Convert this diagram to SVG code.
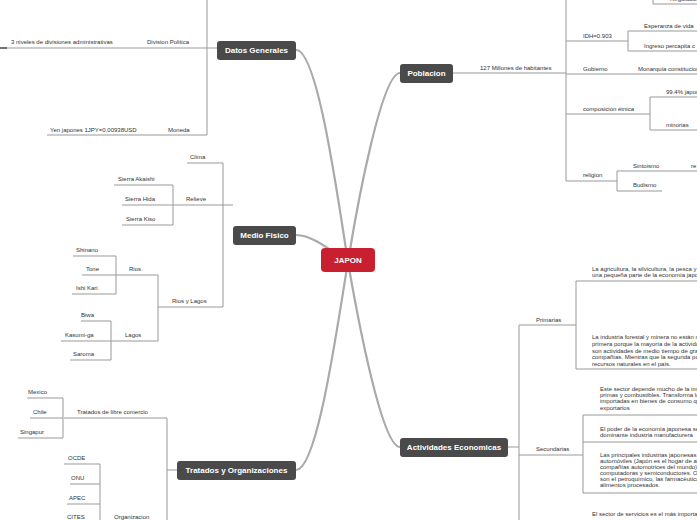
<svg xmlns="http://www.w3.org/2000/svg" width="697" height="520" viewBox="0 0 697 520">
<style>
.t{font-family:"Liberation Sans",Arial,sans-serif;font-size:6px;fill:#333}
.n{font-family:"Liberation Sans",Arial,sans-serif;font-size:8px;font-weight:bold;fill:#fff;text-anchor:middle}
.l{stroke:#999;stroke-width:1;fill:none}
.c{stroke:#aaa;stroke-width:2.2;fill:none}
.box{fill:#4a4a4a}
</style>
<rect width="697" height="520" fill="#fff"/>
<g id="connectors">
<path class="c" d="M296,50 C318,50 338,200 348,262"/>
<path class="c" d="M296,235 C312,235 330,250 348,262"/>
<path class="c" d="M296,470 C318,470 338,320 348,262"/>
<path class="c" d="M400,73 C382,73 358,200 348,262"/>
<path class="c" d="M400,447 C382,447 358,320 348,262"/>
<path class="l" d="M207,0V135M0,48H217M47,135H207"/>
<path d="M0,48H7" stroke="#555" stroke-width="1.5"/>
<path class="l" d="M223,163V307M187,163H223M173,205H233M158,307H223M173,185V225M114,185H173M122,205H173M122,225H173"/>
<path class="l" d="M158,275V341M116,275H158M111,341H158M116,256V294M73,256H116M82,275H116M72,294H116M111,321V360M81,321H111M61,341H111M70,360H111"/>
<path class="l" d="M167,418V520M64,418H167M167,470H177M63,398V438M27,398H63M30,418H63M18,438H63M100,464V520M64,464H100M70,484H100M67,504H100M66,523H100"/>
<path class="l" d="M453,73H566M566,0V181M566,41H628M628,31V51M628,31H697M628,51H697M566,74H697M566,114H650M650,97V130M650,97H697M650,130H697M566,181H617M617,171V191M617,171H697M617,191H662M653,0V4M653,4H697"/>
<path class="l" d="M508,447H519M519,325V520M519,325H576M576,281V369M576,281H697M576,369H697M519,455H583M583,415V493M583,415H697M583,442H697M583,493H697"/>
</g>
<g id="center"><rect x="321" y="248" width="54" height="24" rx="4" fill="#c8202f"/><text class="n" x="348" y="263">JAPON</text></g>
<g id="datos"><rect class="box" x="217" y="41" width="79" height="19" rx="3"/><text class="n" x="256.5" y="53">Datos Generales</text>
<text class="t" x="11" y="44">3 niveles de divisiones administrativas</text><text class="t" x="147" y="44">Division Politica</text>
<text class="t" x="50" y="132">Yen japones 1JPY=0,00938USD</text><text class="t" x="168" y="132">Moneda</text></g>
<g id="medio"><rect class="box" x="233" y="226" width="63" height="19" rx="3"/><text class="n" x="264.5" y="238">Medio Fisico</text>
<text class="t" x="190" y="159">Clima</text><text class="t" x="186" y="201">Relieve</text>
<text class="t" x="118" y="181">Sierra Akaishi</text><text class="t" x="125" y="201">Sierra Hida</text><text class="t" x="126" y="221">Sierra Kiso</text>
<text class="t" x="172" y="303">Rios y Lagos</text><text class="t" x="129" y="271">Rios</text>
<text class="t" x="76" y="252">Shinano</text><text class="t" x="86" y="271">Tone</text><text class="t" x="76" y="290">Ishi Kari</text>
<text class="t" x="125" y="337">Lagos</text><text class="t" x="81" y="317">Biwa</text><text class="t" x="65" y="337">Kasumi-ga</text><text class="t" x="73" y="356">Saroma</text></g>
<g id="tratados"><rect class="box" x="177" y="461" width="119" height="19" rx="3"/><text class="n" x="236.5" y="473">Tratados y Organizaciones</text>
<text class="t" x="77" y="414">Tratados de libre comercio</text>
<text class="t" x="28" y="394">Mexico</text><text class="t" x="33" y="414">Chile</text><text class="t" x="20" y="434">Singapur</text>
<text class="t" x="114" y="519">Organizacion</text>
<text class="t" x="68" y="460">OCDE</text><text class="t" x="71" y="480">ONU</text><text class="t" x="69" y="500">APEC</text><text class="t" x="67" y="519">CITES</text></g>
<g id="poblacion"><rect class="box" x="400" y="64" width="53" height="19" rx="3"/><text class="n" x="426.5" y="76">Poblacion</text>
<text class="t" x="480" y="70">127 Millones de habitantes</text>
<text class="t" x="670" y="1">Regulacion</text>
<text class="t" x="583" y="38">IDH=0.903</text><text class="t" x="644" y="28">Esperanza de vida</text><text class="t" x="644" y="48">Ingreso percapita c</text>
<text class="t" x="583" y="71">Gobierno</text><text class="t" x="638" y="71">Monarquia constitucional</text>
<text class="t" x="583" y="111">composición étnica</text><text class="t" x="666" y="94">99.4% japoneses</text><text class="t" x="666" y="127">minorias</text>
<text class="t" x="583" y="177">religion</text><text class="t" x="633" y="168">Sintoismo</text><text class="t" x="691" y="168">re</text><text class="t" x="633" y="187">Budismo</text></g>
<g id="actividades"><rect class="box" x="400" y="438" width="108" height="19" rx="3"/><text class="n" x="454" y="450">Actividades Economicas</text>
<text class="t" x="536" y="322">Primarias</text>
<text class="t" x="592" y="271">La agricultura, la silvicultura, la pesca y la minería representan</text>
<text class="t" x="592" y="277">una pequeña parte de la economía japonesa</text>
<text class="t" x="592" y="339">La industria forestal y minera no están muy desarrolladas, la</text>
<text class="t" x="592" y="346">primera porque la mayoría de la actividad agrícola y pesquera</text>
<text class="t" x="592" y="353">son actividades de medio tiempo de grandes</text>
<text class="t" x="592" y="359">compañías. Mientras que la segunda por los pocos</text>
<text class="t" x="592" y="366">recursos naturales en el país.</text>
<text class="t" x="536" y="451">Secundarias</text>
<text class="t" x="600" y="391">Este sector depende mucho de la importación de materias</text>
<text class="t" x="600" y="397">primas y combustibles. Transforma las materias primas</text>
<text class="t" x="600" y="403">importadas en bienes de consumo que son</text>
<text class="t" x="600" y="410">exportarios</text>
<text class="t" x="600" y="431">El poder de la economía japonesa se debe a la</text>
<text class="t" x="600" y="437">dominante industria manufacturera</text>
<text class="t" x="600" y="457">Las principales industrias japonesas son la fabricación de</text>
<text class="t" x="600" y="463">automóviles (Japón es el hogar de algunas de las mayores</text>
<text class="t" x="600" y="469">compañías automotrices del mundo), productos electrónicos,</text>
<text class="t" x="600" y="475">computadoras y semiconductores. Otras industrias importantes</text>
<text class="t" x="600" y="481">son el petroquímico, las farmacéuticas, y la industria de</text>
<text class="t" x="600" y="487">alimentos procesados.</text>
<text class="t" x="592" y="516">El sector de servicios es el más importante</text></g>
</svg>
